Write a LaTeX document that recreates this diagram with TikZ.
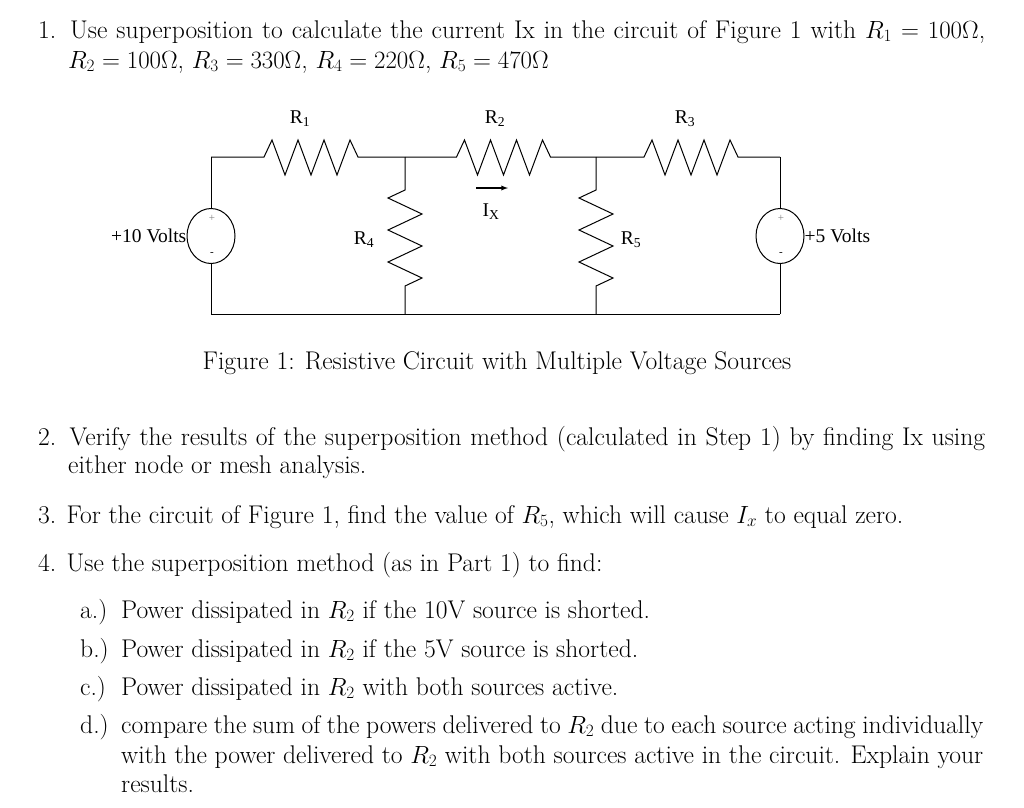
\documentclass[tikz,border=0pt]{standalone}
\usepackage{fontspec}
\usetikzlibrary{shapes.geometric}
\newfontfamily\tmsfont{Liberation Serif}
\newcommand\itm[1]{\makebox[41pt][l]{#1}}
\begin{document}
\begin{tikzpicture}[x=1pt,y=-1pt,
  txt/.style={anchor=base west,inner sep=0pt,font=\fontsize{25.6}{30}\selectfont},
  ckt/.style={font=\tmsfont\fontsize{19.5}{21}\selectfont,inner sep=1pt},
  wire/.style={line width=1pt},
  sym/.style={font=\tmsfont\fontsize{11}{11}\selectfont,inner sep=0pt,text=gray}]
\useasboundingbox (0,0) rectangle (1024,807);
% text
\node[txt] (t1) at (38,38) {\makebox[947pt][s]{1. Use superposition to calculate the current Ix in the circuit of Figure 1 with $R_1=100\Omega$,}};
\node[txt] (t1b) at (68,68) {$R_2=100\Omega$, $R_3=330\Omega$, $R_4=220\Omega$, $R_5=470\Omega$};
\node[txt,anchor=base] (cap) at (497,369) {Figure 1: Resistive Circuit with Multiple Voltage Sources};
\node[txt] (t2) at (38,445) {\makebox[947pt][s]{2. Verify the results of the superposition method (calculated in Step 1) by finding Ix using}};
\node[txt] (t2b) at (68,473) {either node or mesh analysis.};
\node[txt] (t3) at (38,523) {3. For the circuit of Figure 1, find the value of $R_5$, which will cause $I_x$ to equal zero.};
\node[txt] (t4) at (38,571) {4. Use the superposition method (as in Part 1) to find:};
\node[txt] (ta) at (80,618) {\itm{a.)}Power dissipated in $R_2$ if the 10V source is shorted.};
\node[txt] (tb) at (80,657) {\itm{b.)}Power dissipated in $R_2$ if the 5V source is shorted.};
\node[txt] (tc) at (80,695) {\itm{c.)}Power dissipated in $R_2$ with both sources active.};
\node[txt] (td) at (80,733) {\itm{d.)}\makebox[862pt][s]{compare the sum of the powers delivered to $R_2$ due to each source acting individually}};
\node[txt] (td2) at (121,763) {\makebox[862pt][s]{with the power delivered to $R_2$ with both sources active in the circuit. Explain your}};
\node[txt] (td3) at (121,792) {results.};
% circuit
\coordinate (TL) at (211,157); \coordinate (A) at (405,157); \coordinate (B) at (596,157); \coordinate (TR) at (780,157);
\coordinate (BL) at (211,314); \coordinate (BA) at (405,314); \coordinate (BB) at (596,314); \coordinate (BR) at (780,314);
\node[draw,wire,ellipse,minimum width=48pt,minimum height=55pt,inner sep=0pt] (V1) at (211,236) {};
\node[draw,wire,ellipse,minimum width=48pt,minimum height=55pt,inner sep=0pt] (V2) at (780,236) {};
\draw[wire] (BL) -- (BR);
\draw[wire] (TL) -- (V1.north) (V1.south) -- (BL);
\draw[wire] (TR) -- (V2.north) (V2.south) -- (BR);
\node[sym] (p1) at (212,218) {+}; \node[sym,text=black] (m1) at (212,254) {-};
\node[sym] (p2) at (781,218) {+}; \node[sym,text=black] (m2) at (781,254) {-};
\node[ckt,anchor=east,inner sep=0pt] (L1) at (V1.west) {+10 Volts};
\node[ckt,anchor=west,inner sep=0pt] (L2) at (V2.east) {+5 Volts};
% horizontal resistors
\foreach \s/\e in {211/405,405/596,596/780}{
  \pgfmathsetmacro\a{(\s+\e)/2-44}
  \draw[wire] (\s,157) -- (\a,157) -- ++(8,-17) -- ++(13,35) -- ++(13,-35) -- ++(13,35) -- ++(13,-35) -- ++(13,35) -- ++(13,-35) -- ++(8,17) -- (\e,157);
}
% vertical resistors
\foreach \x in {405,596}{
  \draw[wire] (\x,157) -- (\x,190) -- ++(-17,8) -- ++(34,16) -- ++(-34,16) -- ++(34,16) -- ++(-34,16) -- ++(34,16) -- ++(-17,8) -- (\x,314);
}
\node[ckt] (R1) at (300,119) {R\textsubscript{1}};
\node[ckt] (R2) at (495,119) {R\textsubscript{2}};
\node[ckt] (R3) at (685,119) {R\textsubscript{3}};
\node[ckt] (R4) at (364,240) {R\textsubscript{4}};
\node[ckt] (R5) at (631,240) {R\textsubscript{5}};
\draw[line width=1.3pt,-latex] (476,188) -- (508,188);
\node[ckt] (IX) at (491,212) {I\textsubscript{X}};
\end{tikzpicture}
\end{document}
